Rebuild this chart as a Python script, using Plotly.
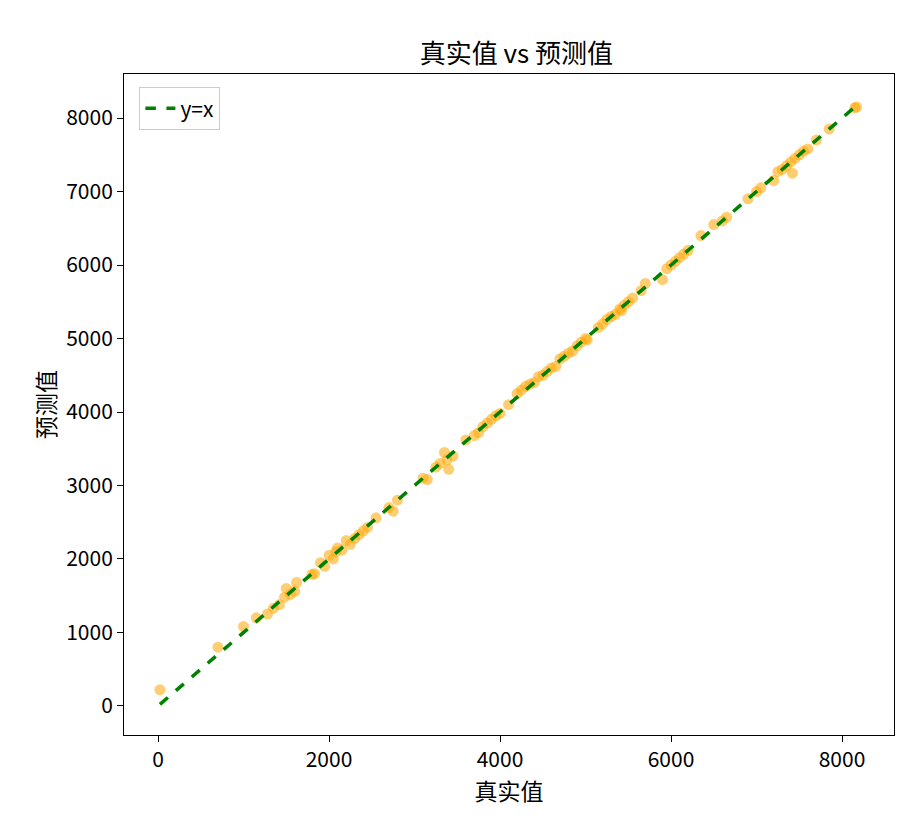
import plotly.graph_objects as go

true_vals = [22,700,1000,1150,1280,1350,1420,1480,1500,1550,1600,1620,1800,1830,1900,1950,2000,2050,2080,2100,2150,2200,2250,2300,2350,2400,2450,2550,2700,2750,2800,3100,3150,3250,3300,3350,3380,3400,3450,3600,3700,3750,3800,3850,3900,3950,4000,4100,4200,4250,4300,4350,4400,4450,4500,4550,4600,4650,4700,4750,4800,4850,4900,4950,5000,5020,5150,5200,5250,5300,5350,5400,5420,5450,5500,5550,5650,5700,5900,5950,6000,6050,6100,6150,6200,6350,6500,6600,6650,6900,7000,7050,7200,7250,7300,7350,7400,7420,7450,7500,7550,7600,7700,7850,8150,8170]
pred_vals = [220,800,1080,1200,1250,1330,1380,1480,1600,1520,1560,1680,1790,1800,1950,1900,2050,2000,2100,2150,2120,2250,2200,2280,2330,2380,2430,2560,2700,2650,2800,3100,3080,3250,3300,3450,3350,3220,3400,3620,3680,3720,3800,3850,3900,3950,3980,4100,4250,4300,4350,4380,4400,4480,4500,4550,4600,4620,4720,4760,4800,4830,4900,4950,5000,4980,5150,5200,5260,5300,5330,5400,5380,5450,5500,5550,5650,5750,5800,5950,6000,6050,6100,6150,6200,6400,6550,6600,6650,6900,7000,7050,7150,7270,7300,7350,7400,7250,7450,7500,7550,7580,7700,7850,8140,8150]
line_x = [min(true_vals), max(true_vals)]

font = "Noto Sans CJK SC"
fig = go.Figure()
fig.add_trace(go.Scatter(x=true_vals, y=pred_vals, mode="markers", showlegend=False,
    marker=dict(color="rgba(255,165,0,0.55)", size=11, line=dict(width=0))))
fig.add_trace(go.Scatter(x=line_x, y=line_x, mode="lines", name="y=x",
    line=dict(color="green", width=3.5, dash="dash")))
ax = dict(showgrid=False, zeroline=False, showline=True, mirror=True, linecolor="black",
          ticks="outside", ticklen=6, tickcolor="black", tickfont=dict(size=21, color="black"))
fig.update_layout(width=916, height=824, plot_bgcolor="white", paper_bgcolor="white",
    margin=dict(l=116, r=30, t=66, b=97), font=dict(family=font, color="black"),
    title=dict(text="真实值 vs 预测值", x=0.555, xanchor="center", y=0.955, font=dict(size=26)),
    xaxis=dict(ax, range=[-398, 8608], tickvals=[0,2000,4000,6000,8000],
               title=dict(text="真实值", font=dict(size=23), standoff=6)),
    yaxis=dict(ax, range=[-395, 8599], tickvals=[0,1000,2000,3000,4000,5000,6000,7000,8000],
               title=dict(text="预测值", font=dict(size=23), standoff=4)),
    legend=dict(x=0.02, y=0.98, xanchor="left", yanchor="top", bordercolor="#ccc", borderwidth=1,
                font=dict(size=21), bgcolor="white"))
fig.write_html("out.html")
